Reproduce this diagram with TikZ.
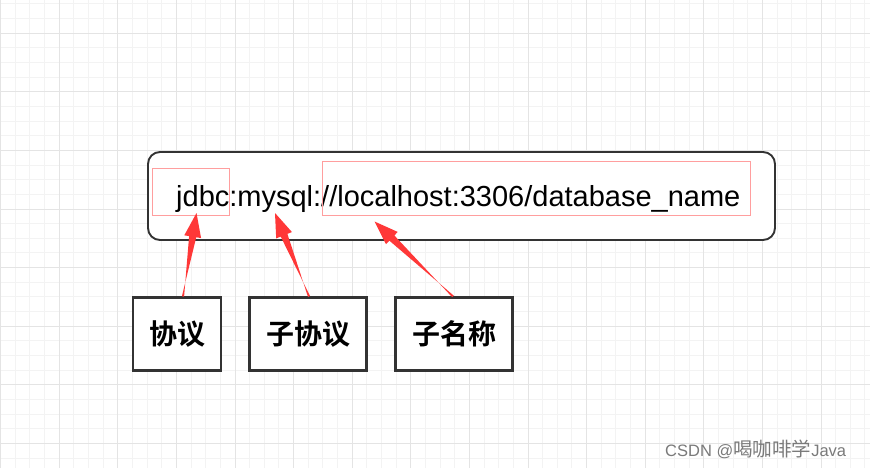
\documentclass[tikz,border=0pt]{standalone}
\usepackage{fontspec}
\setmainfont{Liberation Sans}
\newfontfamily\cjkbold{Noto Sans CJK SC}[BoldFont={* Bold}]
\newfontfamily\cjk{Noto Sans CJK SC}
\usetikzlibrary{calc}
\definecolor{gridminor}{HTML}{F3F3F3}
\definecolor{gridmajor}{HTML}{E4E4E4}
\definecolor{hl}{HTML}{FF9E9E}
\definecolor{arr}{HTML}{FF3838}
\definecolor{frame}{HTML}{333333}
\tikzset{
  labelbox/.style={draw=frame, line width=2.1pt, fill=white, minimum height=73pt, inner sep=0, font=\cjkbold\bfseries\fontsize{28}{32}\selectfont},
  hlbox/.style={draw=hl, line width=0.9pt},
  arrowfill/.style={fill=arr}
}
% tapered arrow from #1 (tail) to #2 (tip)
\newcommand\taperarrow[2]{%
  \coordinate (hb) at ($(#2)!24pt!(#1)$);
  \fill[arrowfill] ($(#1)!1.1pt!90:(#2)$) -- ($(hb)!3.6pt!-90:(#2)$) -- ($(hb)!8.5pt!-90:(#2)$) -- (#2)
     -- ($(hb)!8.5pt!90:(#2)$) -- ($(hb)!3.6pt!90:(#2)$) -- ($(#1)!1.1pt!-90:(#2)$) -- cycle;
}
\begin{document}
\begin{tikzpicture}[x=1pt,y=-1pt]
\useasboundingbox (0,0) rectangle (870,468);
\fill[white] (0,0) rectangle (870,468);
% grid
\foreach \i in {0,...,60} {
  \pgfmathsetmacro\xx{0.5+14.65*\i}
  \pgfmathsetmacro\yy{3.8+14.65*\i}
  \draw[gridminor, line width=0.8pt] (\xx,0) -- (\xx,468);
  \draw[gridminor, line width=0.8pt] (0,\yy) -- (870,\yy);
}
\foreach \i in {0,...,15} {
  \pgfmathsetmacro\xx{0.5+58.6*\i}
  \pgfmathsetmacro\yy{33.1+58.6*\i}
  \draw[gridmajor, line width=0.8pt] (\xx,0) -- (\xx,468);
  \draw[gridmajor, line width=0.8pt] (0,\yy) -- (870,\yy);
}
% main rounded box
\draw[frame, line width=1.9pt, rounded corners=12pt, fill=white] (148,152) rectangle (775,240);
\node[anchor=base west, inner sep=0, font=\fontsize{29}{34}\selectfont] (url) at (176,206.5) {jdbc:mysql://localhost:3306/database\_name};
% highlight boxes
\draw[hlbox] (152,168) rectangle (229,215);
\draw[hlbox] (322,161) rectangle (750,215);
% label boxes
\node[labelbox, minimum width=88pt] (b1) at (177,334) {协议};
\node[labelbox, minimum width=117pt] (b2) at (308,334) {子协议};
\node[labelbox, minimum width=117pt] (b3) at (454,334) {子名称};
% arrow ends
\coordinate (s1) at ([xshift=6pt]b1.north);
\coordinate (s2) at ([xshift=1pt]b2.north);
\coordinate (s3) at ([xshift=-1pt]b3.north);
\coordinate (t1) at (196.5,213);
\coordinate (t2) at (275,213);
\coordinate (t3) at (374.5,221.5);
\taperarrow{s1}{t1}
\taperarrow{s2}{t2}
\taperarrow{s3}{t3}
% watermark
\node[anchor=west, inner sep=0, text=black!52, font=\fontsize{16.5}{20}\selectfont] (wm) at (665,449) {CSDN @{\cjk\fontsize{19.5}{22}\selectfont 喝咖啡学}Java};
\end{tikzpicture}
\end{document}
